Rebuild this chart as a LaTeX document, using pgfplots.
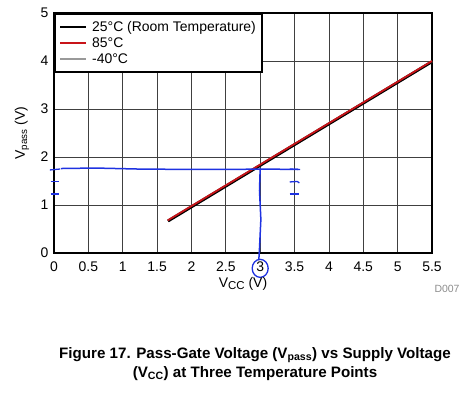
\documentclass[border=0pt]{standalone}
\usepackage{fontspec}
\setmainfont{Liberation Sans}
\usepackage{pgfplots}
\pgfplotsset{compat=1.18}
\definecolor{pen}{RGB}{30,50,225}
\definecolor{redline}{RGB}{200,20,25}
\begin{document}
\begin{tikzpicture}
\useasboundingbox (-54bp,-141bp) rectangle (420bp,253bp);
\begin{axis}[
  at={(0,0)}, anchor=south west,
  scale only axis, width=378bp, height=240bp,
  xmin=0, xmax=5.5, ymin=0, ymax=5,
  xtick={0,0.5,1,1.5,2,2.5,3,3.5,4,4.5,5,5.5},
  xticklabels={0,0.5,1,1.5,2,2.5,3,3.5,4,4.5,5,5.5},
  ytick={0,1,2,3,4,5},
  grid=major,
  major grid style={black!75, line width=0.8bp},
  axis line style={black, line width=2bp},
  major tick length=0pt,
  /pgf/number format/assume math mode=true,
  tick label style={font=\fontsize{14}{16}\selectfont},
  xticklabel style={yshift=-5bp},
  yticklabel style={xshift=-2bp},
  xlabel={V\raisebox{-0.2ex}{\fontsize{11.5}{13}\selectfont CC} (V)},
  ylabel={V\textsubscript{pass} (V)},
  label style={font=\fontsize{14}{16}\selectfont},
  xlabel style={at={(axis description cs:0.5,0)}, anchor=center, yshift=-31bp},
  ylabel style={at={(axis description cs:0,0.5)}, anchor=center, yshift=32bp},
  clip=false,
  legend image code/.code={\draw[#1] (2bp,0bp) -- (28bp,0bp); \path (31bp,0bp);},
  legend cell align=left,
  legend style={at={(0,1)}, anchor=north west, draw=black, line width=2bp,
    font=\fontsize{14}{16}\selectfont, inner xsep=4bp, inner ysep=5.5bp,
    row sep=0.5bp, fill=white},
]
\addlegendimage{black, line width=2.2bp}
\addlegendentry{25°C (Room Temperature)}
\addlegendimage{redline, line width=2.2bp}
\addlegendentry{85°C}
\addlegendimage{black!40, line width=1.4bp}
\addlegendentry{-40°C}
% -40 C, 25 C, 85 C curves (overlapping)
\addplot[forget plot, black!40, line width=2.6bp] coordinates {(1.655,0.67) (5.5,3.99)};
\addplot[forget plot, black, line width=2.7bp] coordinates {(1.66,0.665) (5.5,3.985)};
\addplot[forget plot, redline, line width=1.8bp] coordinates {(1.655,0.68) (5.5,4.0)};
% hand-drawn blue annotations
\addplot[forget plot, pen, line width=1.5bp] coordinates {(0.1,1.76) (0.6,1.77) (1.2,1.75) (2.0,1.74) (2.6,1.74) (3.0,1.75) (3.55,1.74)};
\addplot[forget plot, pen, line width=1.5bp] coordinates {(3.0,1.76) (2.99,1.3) (3.01,0.7) (2.99,0.1) (2.98,-0.15)};
\addplot[forget plot, pen, line width=1.3bp] coordinates {(-0.06,1.73) (0.09,1.75)};
\addplot[forget plot, pen, line width=1.3bp] coordinates {(-0.05,1.49) (0.07,1.49)};
\addplot[forget plot, pen, line width=1.3bp] coordinates {(-0.05,1.23) (0.07,1.23)};
\addplot[forget plot, pen, line width=1.3bp] coordinates {(3.43,1.75) (3.58,1.74)};
\addplot[forget plot, pen, line width=1.3bp] coordinates {(3.43,1.48) (3.54,1.49) (3.57,1.46)};
\addplot[forget plot, pen, line width=1.3bp] coordinates {(3.43,1.23) (3.57,1.23)};
\draw[pen, line width=1.3bp] (axis cs:3,-0.32) ellipse [x radius=8bp, y radius=9bp];
\end{axis}
\node[text=black!45, font=\fontsize{10.5}{12}\selectfont] at (393bp,-36bp) {D007};
\node[align=center, font=\bfseries\fontsize{15.2}{19}\selectfont] at (201bp,-111bp)
  {Figure 17. Pass-Gate Voltage (V\textsubscript{pass}) vs Supply Voltage\\(V\textsubscript{CC}) at Three Temperature Points};
\end{tikzpicture}
\end{document}
